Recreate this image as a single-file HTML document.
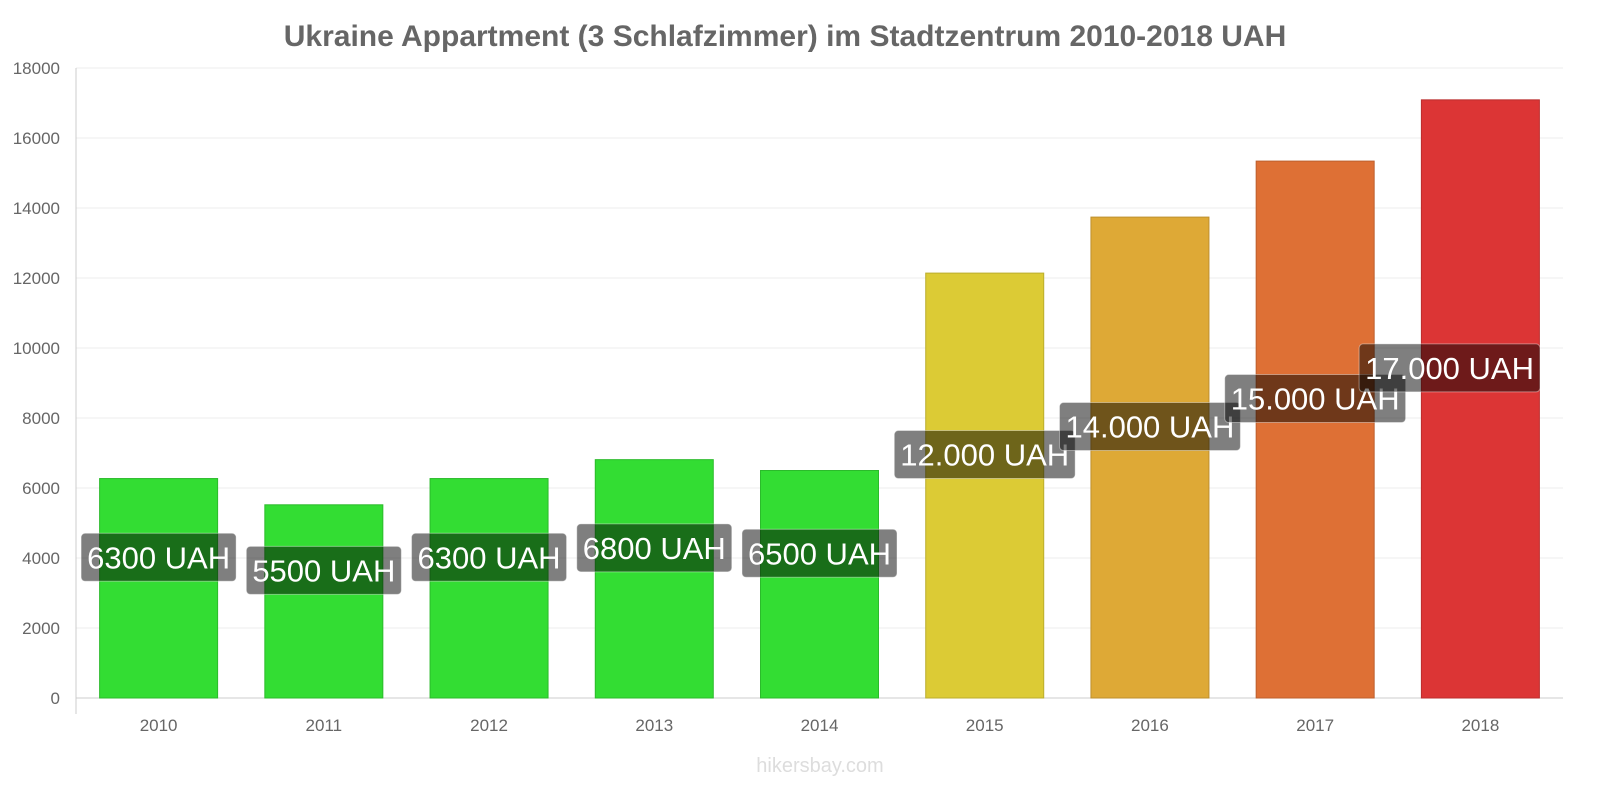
<!DOCTYPE html>
<html><head><meta charset="utf-8"><style>
body{margin:0;background:#fff;width:1600px;height:800px;overflow:hidden;font-family:"Liberation Sans",sans-serif}
</style></head><body>
<svg id="chart" width="1600" height="800" xmlns="http://www.w3.org/2000/svg">
<text x="785" y="46" text-anchor="middle" font-size="30" font-weight="bold" fill="#666">Ukraine Appartment (3 Schlafzimmer) im Stadtzentrum 2010-2018 UAH</text>
<g id="grid"></g><g id="bars"></g><g id="labels"></g>
<text x="820" y="772" text-anchor="middle" font-size="20" fill="#ddd">hikersbay.com</text>
</svg>
<script>
const categories=["2010","2011","2012","2013","2014","2015","2016","2017","2018"];
const values=[6270,5520,6270,6810,6500,12140,13740,15340,17090];
const valueLabels=["6300 UAH","5500 UAH","6300 UAH","6800 UAH","6500 UAH","12.000 UAH","14.000 UAH","15.000 UAH","17.000 UAH"];
const yTicks=[0,2000,4000,6000,8000,10000,12000,14000,16000,18000];
const colors=["#33dd33","#33dd33","#33dd33","#33dd33","#33dd33","#dccb35","#dea936","#de7035","#dc3535"];
const strokes=["#2bbb2b","#2bbb2b","#2bbb2b","#2bbb2b","#2bbb2b","#bbad2d","#bd8f2e","#bd5f2d","#bb2d2d"];
const NS="http://www.w3.org/2000/svg";
const x0=76,x1=1563,y0=698,y1=68,yMax=18000;
const band=(x1-x0)/categories.length;
const y=v=>y0-(v/yMax)*(y0-y1);
const xc=i=>x0+band*(i+0.5);
function mk(t,a,p){const e=document.createElementNS(NS,t);for(const k in a)e.setAttribute(k,a[k]);p.appendChild(e);return e;}
const grid=document.getElementById('grid'),bars=document.getElementById('bars'),labels=document.getElementById('labels');
yTicks.forEach(t=>{
  const l=mk('line',{x1:x0,x2:x1,y1:y(t),y2:y(t),stroke:t===0?'#ccc':'#eee','stroke-width':1},grid);
  
  
  const tx=mk('text',{x:60,y:y(t)+6,'text-anchor':'end','font-size':17,fill:'#666'},grid);
  tx.textContent=t;
  
  
});
const ax=mk('line',{x1:x0,x2:x0,y1:y1,y2:y0+16,stroke:'#ccc'},grid);


categories.forEach((c,i)=>{
  const w=118,cx=xc(i);
  const r=mk('rect',{x:cx-w/2,y:y(values[i]),width:w,height:y0-y(values[i]),fill:colors[i],stroke:strokes[i],'stroke-width':1},bars);
  
  
  const tx=mk('text',{x:cx,y:731,'text-anchor':'middle','font-size':17,fill:'#666'},grid);
  tx.textContent=c;
  
  
  const ly=(y(values[i])+y0)/2-31;
  const g=mk('g',{},labels);
  
  
  const bg=mk('rect',{y:ly-24,height:48,rx:4,fill:'rgba(0,0,0,0.5)',stroke:'rgba(255,255,255,0.4)'},g);
  const t=mk('text',{x:0,y:ly+11,'text-anchor':'middle','font-size':31,fill:'#fff'},g);
  t.textContent=valueLabels[i];
  const tw=t.getComputedTextLength();
  const lw=tw+12;
  let lx=cx; if(lx+lw/2>1540)lx=1540-lw/2;
  t.setAttribute('x',lx);
  bg.setAttribute('x',lx-lw/2);
  bg.setAttribute('width',lw);
});
</script>
</body></html>
